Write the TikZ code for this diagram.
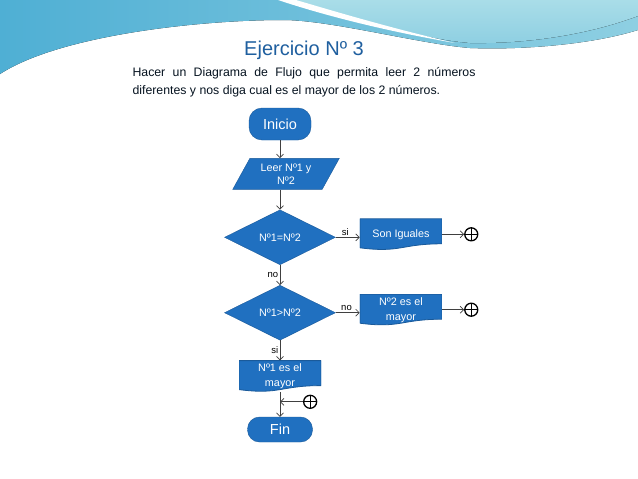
\documentclass[tikz,border=0pt]{standalone}
\usepackage{fontspec}
\setmainfont{Liberation Sans}
\usepackage{tikz}
\usetikzlibrary{arrows.meta,positioning,shapes.geometric}

\definecolor{azul}{HTML}{2070C0}
\definecolor{borde}{HTML}{1A5A9A}
\definecolor{titulo}{HTML}{1F5F9F}
\definecolor{ola}{HTML}{4FAFD4}
\definecolor{olaclara}{HTML}{A9DDE8}

\begin{document}
\begin{tikzpicture}[
    x=1pt, y=-1pt,
    >={Straight Barb[length=3.5pt,width=7pt]},
    node distance=20pt,
    every node/.style={align=center},
    terminal/.style={
        rectangle,
        rounded corners=13pt,
        draw=borde,
        fill=azul,
        text=white,
        minimum width=62pt,
        minimum height=32pt,
        font=\fontsize{14.5}{16}\selectfont
    },
    entrada/.style={
        trapezium,
        trapezium left angle=61,
        trapezium right angle=119,
        trapezium stretches=true,
        draw=borde,
        fill=azul,
        text=white,
        minimum width=107pt,
        minimum height=31pt,
        inner sep=1pt,
        font=\fontsize{10.8}{13}\selectfont
    },
    decision/.style={
        diamond,
        draw=borde,
        fill=azul,
        text=white,
        minimum width=111pt,
        minimum height=55pt,
        inner sep=0pt,
        font=\fontsize{10.8}{12}\selectfont
    },
    docbox/.style={
        rectangle,
        minimum width=82pt,
        minimum height=31pt,
        inner sep=1pt,
        text=white,
        font=\fontsize{10.8}{15}\selectfont,
        path picture={
            \fill[azul, draw=borde, line width=0.8pt]
                (path picture bounding box.north west)
                -- (path picture bounding box.north east)
                -- ([yshift=6pt]path picture bounding box.south east)
                .. controls ([xshift=-41pt,yshift=6pt]path picture bounding box.south east)
                and ([xshift=41pt,yshift=-3.3pt]path picture bounding box.south west)
                .. ([yshift=2pt]path picture bounding box.south west)
                -- cycle;
        }
    },
    conector/.style={
        circle,
        draw=black,
        line width=1.3pt,
        minimum size=13pt,
        inner sep=0pt,
        path picture={
            \draw[line width=1.3pt]
                (path picture bounding box.north) -- (path picture bounding box.south)
                (path picture bounding box.west) -- (path picture bounding box.east);
        }
    },
    flecha/.style={->, draw=black!75, line width=0.7pt},
    etiq/.style={font=\fontsize{9.5}{10}\selectfont, text=black, inner sep=1.5pt}
]
% fondo de la diapositiva
\fill[white] (0,0) rectangle (638,479);
\useasboundingbox (0,0) rectangle (638,479);
\fill[left color=ola, right color=olaclara!70!ola]
    (0,0) -- (638,0) -- (638,30)
    .. controls (590,45) and (520,50) .. (470,48)
    .. controls (420,44) and (330,20) .. (283,20)
    .. controls (200,20) and (60,35) .. (0,74) -- cycle;
\fill[top color=olaclara, bottom color=olaclara!70!ola]
    (292,0) -- (638,0) -- (638,16)
    .. controls (590,34) and (530,44) .. (470,43)
    .. controls (410,38) and (340,12) .. (292,0) -- cycle;
\fill[white]
    (278,0) .. controls (320,14) and (380,30) .. (455,43)
    .. controls (390,28) and (330,10) .. (296,0) -- cycle;

% textos
\node[text=titulo, font=\fontsize{20}{22}\selectfont] (titulo) at (304,50) {Ejercicio Nº 3};
\node[anchor=north west, text width=343pt, align=justify, text=black!80!titulo,
      font=\fontsize{12.3}{17.5}\selectfont] (enunciado) at (129,64)
    {Hacer un Diagrama de Flujo que permita leer 2 números\linebreak
     diferentes y nos diga cual es el mayor de los 2 números.};

% diagrama
\node[terminal] (inicio) at (280,124) {Inicio};
\node[entrada, below=18pt of inicio, xshift=6pt] (leer) {Leer Nº1 y\\Nº2};
\node[decision, below=of leer, xshift=-6pt] (igual) {Nº1=Nº2};
\node[docbox, right=24pt of igual, yshift=3pt] (iguales) {Son Iguales};
\node[conector, right=22pt of iguales] (fin1) {};
\node[decision, below=of igual] (mayor) {Nº1>Nº2};
\node[docbox, right=24pt of mayor, yshift=3pt] (mayor2) {Nº2 es el\\mayor};
\node[conector, right=22pt of mayor2] (fin2) {};
\node[docbox, below=of mayor] (mayor1) {Nº1 es el\\mayor};
\coordinate[below=10pt of mayor1] (junta);
\node[conector, right=23pt of junta] (fin3) {};
\node[terminal, below=25pt of mayor1, minimum width=65pt, minimum height=25pt, rounded corners=12pt] (fin) {Fin};

\draw[flecha] (inicio) -- (leer.north -| inicio);
\draw[flecha] (leer.south -| igual) -- (igual);
\draw[flecha] (igual.east) -- node[above, etiq, pos=0.4]{si} (igual.east -| iguales.west);
\draw[flecha] (iguales) -- (fin1);
\draw[flecha] (igual) -- node[left, etiq]{no} (mayor);
\draw[flecha] (mayor.east) -- node[above, etiq, pos=0.45]{no} (mayor.east -| mayor2.west);
\draw[flecha] (mayor2) -- (fin2);
\draw[flecha] (mayor) -- node[left, etiq]{si} (mayor1);
\draw[flecha] (mayor1) -- (fin);
\draw[flecha] (fin3) -- (junta);
\end{tikzpicture}
\end{document}
